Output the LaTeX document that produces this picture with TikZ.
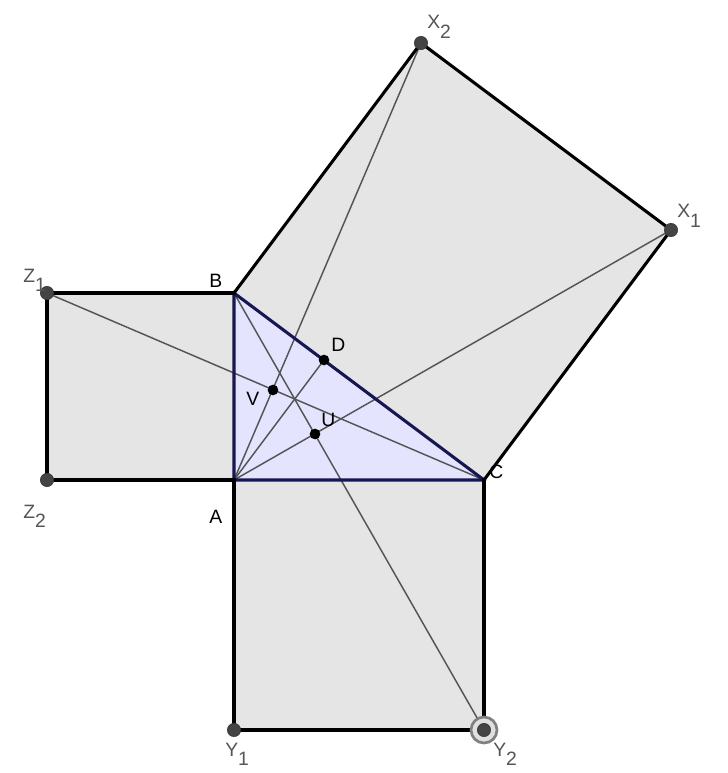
\documentclass[tikz,border=0pt]{standalone}
\usepackage{fontspec}
\setmainfont{Liberation Sans}
\definecolor{sqfill}{RGB}{229,229,229}
\definecolor{trifill}{RGB}{228,228,255}
\definecolor{triedge}{RGB}{22,22,82}
\definecolor{thinln}{RGB}{85,85,85}
\definecolor{ptgray}{RGB}{68,68,68}
\definecolor{lblgray}{RGB}{85,85,85}
\newcommand{\sbs}[1]{\raisebox{-0.5em}{#1}}
\begin{document}
\begin{tikzpicture}[x=0.75pt,y=-0.75pt,
  sqedge/.style={draw=black,line width=2.3pt,line join=round},
  thin/.style={draw=thinln,line width=1.1pt},
  bigpt/.style={circle,fill=ptgray,draw=black!80,line width=0.4pt,inner sep=0pt,minimum size=10pt},
  midpt/.style={circle,fill=black,inner sep=0pt,minimum size=8pt},
  smallpt/.style={circle,fill=black,inner sep=0pt,minimum size=3.5pt},
  lbl/.style={inner sep=0pt,font=\fontsize{14.5}{14.5}\selectfont,text=black},
  glbl/.style={inner sep=0pt,font=\fontsize{14.5}{14.5}\selectfont,text=lblgray}]
\useasboundingbox (0,0) rectangle (727,773);
\fill[white] (0,0) rectangle (727,773);
\coordinate (A) at (234,480);
\coordinate (B) at (234,293);
\coordinate (C) at (484,480);
\coordinate (X2) at (421,43);
\coordinate (X1) at (671,230);
\coordinate (Z1) at (47,293);
\coordinate (Z2) at (47,480);
\coordinate (Y1) at (234,730);
\coordinate (Y2) at (484,730);
\coordinate (D) at (324,360);
\coordinate (V) at (273,390);
\coordinate (U) at (315,434);
% square fills
\fill[sqfill] (B)--(A)--(Z2)--(Z1)--cycle;
\fill[sqfill] (A)--(C)--(Y2)--(Y1)--cycle;
\fill[sqfill] (B)--(C)--(X1)--(X2)--cycle;
\fill[trifill] (A)--(B)--(C)--cycle;
% thin lines
\draw[thin] (A)--(X2);
\draw[thin] (A)--(X1);
\draw[thin] (A)--(D);
\draw[thin] (B)--(Y2);
\draw[thin] (Z1)--(C);
% square edges
\draw[sqedge] (B)--(Z1)--(Z2)--(A);
\draw[sqedge] (A)--(Y1)--(Y2)--(C);
\draw[sqedge] (B)--(X2)--(X1)--(C);
% triangle edges
\draw[draw=triedge,line width=2.3pt,line join=round] (A)--(B)--(C)--cycle;
% Y2 highlight ring
\draw[draw=black!50,line width=2pt,fill=black!12] (Y2) circle[radius=13];
% points
\node[bigpt] (pX2) at (X2) {};
\node[bigpt] (pX1) at (X1) {};
\node[bigpt] (pZ1) at (Z1) {};
\node[bigpt] (pZ2) at (Z2) {};
\node[bigpt] (pY1) at (Y1) {};
\node[bigpt] (pY2) at (Y2) {};
\node[midpt] (pD) at (D) {};
\node[midpt] (pV) at (V) {};
\node[midpt] (pU) at (U) {};
\node[smallpt] (pA) at (A) {};
\node[smallpt] (pB) at (B) {};
\node[smallpt] (pC) at (C) {};
% labels
\node[lbl,anchor=base west] (lA) at (209,523) {A};
\node[lbl,anchor=base west] (lB) at (209,287) {B};
\node[lbl,anchor=base west] (lC) at (489,478) {C};
\node[lbl,anchor=base west] (lD) at (331,351) {D};
\node[lbl,anchor=base west] (lV) at (246,405) {V};
\node[lbl,anchor=base west] (lU) at (321,426) {U};
\node[glbl,anchor=base west] (lX2) at (427,29) {X\sbs{2}};
\node[glbl,anchor=base west] (lX1) at (677,218) {X\sbs{1}};
\node[glbl,anchor=base west] (lZ1) at (23,282) {Z\sbs{1}};
\node[glbl,anchor=base west] (lZ2) at (23,518) {Z\sbs{2}};
\node[glbl,anchor=base west] (lY1) at (225,756) {Y\sbs{1}};
\node[glbl,anchor=base west] (lY2) at (493,756) {Y\sbs{2}};
\end{tikzpicture}
\end{document}
